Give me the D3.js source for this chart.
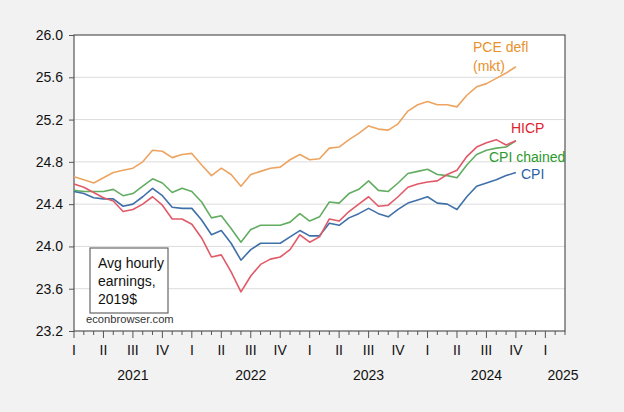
<!DOCTYPE html>
<html>
<head>
<meta charset="utf-8">
<script src="https://cdn.jsdelivr.net/npm/d3@7"></script>
<style>
  body { margin: 0; background: #f2f2f2; }
  svg { display: block; font-family: "Liberation Sans", Arial, sans-serif; }
</style>
</head>
<body>
<div id="chart"></div>
<script>
var vWidth = 624;
var vHeight = 412;

// months from Jan 2021, monthly observations Jan 2021 .. Oct 2024
var cpi = [24.52, 24.50, 24.46, 24.45, 24.45, 24.38, 24.40, 24.47, 24.55, 24.48,
           24.37, 24.36, 24.36, 24.25, 24.11, 24.15, 24.03, 23.87, 23.97, 24.03,
           24.03, 24.03, 24.09, 24.15, 24.10, 24.10, 24.22, 24.20, 24.27, 24.31,
           24.36, 24.31, 24.28, 24.35, 24.41, 24.44, 24.47, 24.41, 24.40, 24.35,
           24.47, 24.57, 24.60, 24.63, 24.67, 24.70];
var cpiChained = [24.53, 24.52, 24.52, 24.52, 24.54, 24.48, 24.50, 24.57, 24.64, 24.60,
                  24.51, 24.55, 24.52, 24.42, 24.27, 24.29, 24.17, 24.04, 24.16, 24.20,
                  24.20, 24.20, 24.23, 24.31, 24.24, 24.28, 24.42, 24.41, 24.50, 24.54,
                  24.62, 24.53, 24.52, 24.60, 24.69, 24.71, 24.73, 24.68, 24.67, 24.65,
                  24.77, 24.87, 24.91, 24.93, 24.94, 25.00];
var hicp = [24.59, 24.56, 24.51, 24.46, 24.43, 24.33, 24.35, 24.40, 24.47, 24.39,
            24.26, 24.26, 24.21, 24.08, 23.90, 23.92, 23.76, 23.57, 23.72, 23.83,
            23.88, 23.90, 23.97, 24.11, 24.04, 24.09, 24.26, 24.24, 24.33, 24.40,
            24.47, 24.38, 24.39, 24.47, 24.56, 24.59, 24.61, 24.62, 24.68, 24.72,
            24.85, 24.94, 24.98, 25.01, 24.96, 25.00];
var pceDefl = [24.66, 24.63, 24.60, 24.65, 24.70, 24.72, 24.74, 24.80, 24.91, 24.90,
               24.84, 24.87, 24.88, 24.77, 24.67, 24.74, 24.68, 24.57, 24.68, 24.71,
               24.74, 24.75, 24.82, 24.87, 24.82, 24.83, 24.93, 24.94, 25.01, 25.07,
               25.14, 25.11, 25.10, 25.16, 25.28, 25.34, 25.37, 25.34, 25.34, 25.32,
               25.43, 25.51, 25.54, 25.59, 25.64, 25.70];

var yTicks = [23.2, 23.6, 24.0, 24.4, 24.8, 25.2, 25.6, 26.0];
var quarterLabels = ["I", "II", "III", "IV"];
var yearLabels = ["2021", "2022", "2023", "2024", "2025"];
var boxLines = ["Avg hourly", "earnings,", "2019$"];
var nMonths = 50; // axis runs to Mar 2025

var series = [
  { values: pceDefl,    line: "#eda461", text: "#e8922e", label: ["PCE defl", "(mkt)"], lx: 473, ly: 52 },
  { values: cpiChained, line: "#62ad62", text: "#2c992c", label: ["CPI chained"], lx: 489, ly: 162 },
  { values: cpi,        line: "#3f70a8", text: "#2a5fa3", label: ["CPI"], lx: 521, ly: 179 },
  { values: hicp,       line: "#e05a68", text: "#e0222e", label: ["HICP"], lx: 511, ly: 133 }
];

var svg = d3.select("#chart")
            .append("svg")
            .attr("width", vWidth)
            .attr("height", vHeight);

var pLeft = 74, pRight = 565, pTop = 35, pBottom = 331;

var x = d3.scaleLinear().domain([0, nMonths]).range([pLeft, pRight]);
var y = d3.scaleLinear().domain([23.2, 26.0]).range([pBottom, pTop]);

// plot area
svg.append("rect")
   .attr("x", pLeft).attr("y", pTop)
   .attr("width", pRight - pLeft).attr("height", pBottom - pTop)
   .attr("fill", "#fff");

// grid lines
svg.append("g")
   .selectAll("line")
   .data(yTicks.slice(1, -1))
   .enter().append("line")
   .attr("x1", pLeft).attr("x2", pRight)
   .attr("y1", d => y(d)).attr("y2", d => y(d))
   .attr("stroke", "#dcdcdc").attr("stroke-width", 1);

// y axis
var yAxis = d3.axisLeft(y).tickValues(yTicks).tickFormat(d3.format(".1f")).tickSize(5).tickPadding(6);
var gy = svg.append("g").attr("transform", `translate(${pLeft},0)`).call(yAxis);
gy.select(".domain").remove();
gy.selectAll(".tick line").attr("stroke", "#555");
gy.selectAll("text").attr("font-size", 14).attr("fill", "#111").attr("font-family", "Liberation Sans, Arial, sans-serif");

// x axis: monthly minor ticks, quarterly major ticks
var months = d3.range(0, nMonths + 1);
var gx = svg.append("g");
gx.selectAll("line")
  .data(months)
  .enter().append("line")
  .attr("x1", d => x(d)).attr("x2", d => x(d))
  .attr("y1", pBottom).attr("y2", d => pBottom + (d % 3 === 0 ? 7 : 4))
  .attr("stroke", "#555");

gx.selectAll("text.q")
  .data(months.filter(d => d % 3 === 0))
  .enter().append("text")
  .attr("class", "q")
  .attr("x", d => x(d)).attr("y", 355)
  .attr("text-anchor", "middle")
  .attr("font-size", 14).attr("fill", "#111")
  .text(d => quarterLabels[(d % 12) / 3]);

gx.selectAll("text.yr")
  .data(yearLabels)
  .enter().append("text")
  .attr("class", "yr")
  .attr("x", (d, i) => Math.min(x(i * 12 + 6), pRight - 2))
  .attr("y", 380)
  .attr("text-anchor", "middle")
  .attr("font-size", 14).attr("fill", "#111")
  .text(d => d);

// frame
svg.append("rect")
   .attr("x", pLeft).attr("y", pTop)
   .attr("width", pRight - pLeft).attr("height", pBottom - pTop)
   .attr("fill", "none").attr("stroke", "#555").attr("stroke-width", 1.2);

// lines
var line = d3.line().x((d, i) => x(i)).y(d => y(d));
series.forEach(function (s) {
  svg.append("path")
     .datum(s.values)
     .attr("d", line)
     .attr("fill", "none")
     .attr("stroke", s.line)
     .attr("stroke-width", 1.6)
     .attr("stroke-linejoin", "round");

  svg.append("g").selectAll("text")
     .data(s.label)
     .enter().append("text")
     .attr("x", s.lx).attr("y", (d, i) => s.ly + i * 19)
     .attr("font-size", 14).attr("fill", s.text)
     .text(d => d);
});

// note box
svg.append("rect")
   .attr("x", 90).attr("y", 248).attr("width", 78).attr("height", 65)
   .attr("fill", "#fff").attr("stroke", "#666").attr("stroke-width", 1.2);
svg.append("g").selectAll("text")
   .data(boxLines)
   .enter().append("text")
   .attr("x", 98).attr("y", (d, i) => 268 + i * 17.8)
   .attr("font-size", 14).attr("fill", "#111")
   .text(d => d);

svg.append("text")
   .attr("x", 86).attr("y", 323)
   .attr("font-size", 11.2).attr("fill", "#333")
   .text("econbrowser.com");
</script>
</body>
</html>
